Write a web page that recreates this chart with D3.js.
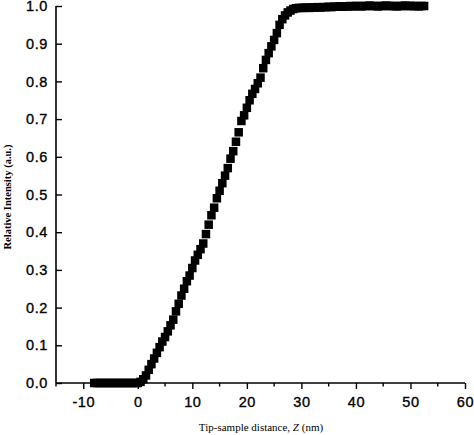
<!DOCTYPE html>
<html>
<head>
<meta charset="utf-8">
<script src="https://cdn.jsdelivr.net/npm/d3@7"></script>
<style>
  html, body { margin: 0; padding: 0; background: #fff; }
  svg { display: block; }
</style>
</head>
<body>
<svg id="chart" width="474" height="435"></svg>
<script>
// ---- data ----
const distanceNm = [
  -8, -7.5, -7, -6.5, -6, -5.5, -5, -4.5, -4, -3.5, -3, -2.5, -2, -1.5, -1, -0.5, 0,
  0.5, 1, 1.5, 2, 2.5, 3, 3.5, 4, 4.5, 5, 5.5, 6, 6.5, 7, 7.5, 8, 8.5, 9, 9.5, 10,
  10.5, 11, 11.5, 12, 12.5, 13, 13.5, 14, 14.5, 15, 15.5, 16, 16.5, 17, 17.5, 18, 18.5, 19, 19.5, 20,
  20.5, 21, 21.5, 22, 22.5, 23, 23.5, 24, 24.5, 25, 25.5, 26, 26.5, 27, 27.5, 28, 28.5, 29, 29.5, 30,
  30.5, 31, 31.5, 32, 32.5, 33, 33.5, 34, 34.5, 35, 35.5, 36, 36.5, 37, 37.5, 38, 38.5, 39, 39.5, 40,
  40.5, 41, 41.5, 42, 42.5, 43, 43.5, 44, 44.5, 45, 45.5, 46, 46.5, 47, 47.5, 48, 48.5, 49, 49.5, 50,
  50.5, 51, 51.5, 52, 52.5
];
const intensity = [
  0, 0, 0, 0, 0, 0, 0, 0, 0, 0, 0, 0, 0, 0, 0, 0, 0,
  0.003, 0.01, 0.02, 0.035, 0.05, 0.065, 0.08, 0.095, 0.11, 0.122, 0.137, 0.153, 0.168, 0.19, 0.21, 0.232, 0.25, 0.27, 0.285, 0.305,
  0.325, 0.34, 0.355, 0.37, 0.395, 0.42, 0.445, 0.465, 0.49, 0.51, 0.53, 0.55, 0.57, 0.595, 0.615, 0.64, 0.665, 0.695, 0.71, 0.73,
  0.75, 0.767, 0.78, 0.795, 0.81, 0.835, 0.857, 0.875, 0.893, 0.91, 0.928, 0.95, 0.965, 0.975, 0.983, 0.988, 0.992, 0.994, 0.995, 0.995,
  0.995, 0.996, 0.995, 0.996, 0.996, 0.997, 0.996, 0.997, 0.997, 0.998, 0.997, 0.998, 0.998, 0.999, 0.998, 0.999, 0.999, 1.0, 0.999, 1.0,
  1.0, 0.999, 1.0, 1.0, 1.001, 1.0, 1.0, 0.999, 1.0, 1.0, 1.001, 1.0, 1.0, 1.0, 0.999, 1.0, 1.0, 1.001, 1.0, 1.0,
  1.0, 1.0, 0.999, 1.0, 1.0
];
const xTicks = [-10, 0, 10, 20, 30, 40, 50, 60];
const xMinorTicks = [-15, -5, 5, 15, 25, 35, 45, 55];
const yTicks = [0.0, 0.1, 0.2, 0.3, 0.4, 0.5, 0.6, 0.7, 0.8, 0.9, 1.0];
const xTitle = "Tip-sample distance, ";
const xTitleVar = "Z";
const xTitleUnit = " (nm)";
const yTitle = "Relative Intensity (a.u.)";

// ---- layout ----
const svg = d3.select("#chart");
const x = d3.scaleLinear().domain([-15, 60]).range([56, 465]);
const y = d3.scaleLinear().domain([0, 1]).range([383, 6]);

const tickFont = "Arial, 'Liberation Sans', sans-serif";
const titleFont = "'Times New Roman', 'Liberation Serif', serif";

function styleTickText(sel) {
  sel.attr("font-family", tickFont).attr("font-size", 14.5).attr("fill", "#000")
    .attr("stroke", "#000").attr("stroke-width", 0.35)
    .attr("letter-spacing", 0.6);
}

// X axis (major ticks outward)
const gx = svg.append("g").attr("transform", `translate(0,${y(0)})`)
  .call(d3.axisBottom(x).tickValues(xTicks).tickSize(6).tickPadding(4)
    .tickFormat(d => String(d)));
gx.select(".domain").attr("d", `M${x(-15)},0H${x(60)}`).attr("stroke-width", 1.6);
gx.selectAll(".tick line").attr("stroke-width", 1.4);
gx.selectAll(".tick text").call(styleTickText).attr("dy", "0.95em");

// X minor ticks
svg.append("g").selectAll("line").data(xMinorTicks).join("line")
  .attr("x1", d => x(d)).attr("x2", d => x(d))
  .attr("y1", y(0)).attr("y2", y(0) + 3.5)
  .attr("stroke", "#000").attr("stroke-width", 1.4);

// Y axis (ticks inward)
const gy = svg.append("g").attr("transform", `translate(${x(-15)},0)`)
  .call(d3.axisLeft(y).tickValues(yTicks).tickSize(-6).tickPadding(8).tickFormat(d3.format(".1f")));
gy.select(".domain").attr("d", `M0,${y(1)}V${y(0)}`).attr("stroke-width", 1.6);
gy.selectAll(".tick line").attr("stroke-width", 1.4);
gy.selectAll(".tick text").call(styleTickText).attr("x", -8);

// Data markers (filled squares)
const pts = distanceNm.map((d, i) => ({ d, v: intensity[i] }));
const s = 8.5;
svg.append("g").selectAll("rect").data(pts).join("rect")
  .attr("x", p => x(p.d) - s / 2)
  .attr("y", p => y(p.v) - s / 2)
  .attr("width", s).attr("height", s)
  .attr("fill", "#000");

// Axis titles
const xt = svg.append("text")
  .attr("x", 261).attr("y", 431)
  .attr("text-anchor", "middle")
  .attr("font-family", titleFont).attr("font-size", 11).attr("fill", "#000");
xt.append("tspan").text(xTitle);
xt.append("tspan").attr("font-style", "italic").text(xTitleVar);
xt.append("tspan").text(xTitleUnit);

svg.append("text")
  .attr("transform", `translate(11,197) rotate(-90)`)
  .attr("text-anchor", "middle")
  .attr("font-family", titleFont).attr("font-size", 10.5).attr("font-weight", "bold").attr("fill", "#000")
  .text(yTitle);
</script>
</body>
</html>
